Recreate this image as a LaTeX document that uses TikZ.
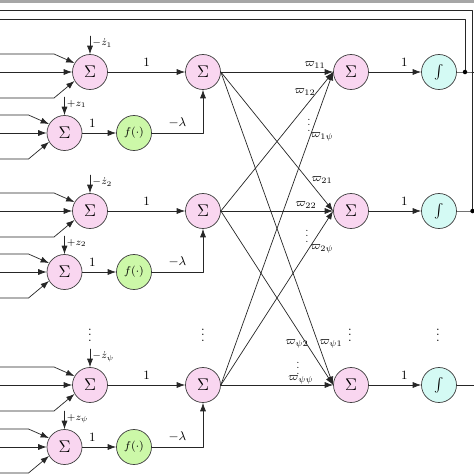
\documentclass[tikz,border=0pt]{standalone}
\usetikzlibrary{arrows.meta}

\definecolor{sumpink}{RGB}{249,214,240}
\definecolor{actgreen}{RGB}{204,248,168}
\definecolor{intcyan}{RGB}{212,250,244}

\tikzset{
  unit/.style={circle,draw=black!75,line width=0.5pt,minimum size=0.875cm,
               inner sep=0pt},
  sumnode/.style={unit,fill=sumpink,font=\large},
  actnode/.style={unit,fill=actgreen,font=\footnotesize},
  intnode/.style={unit,fill=intcyan,font=\small},
  link/.style={line width=0.5pt,draw=black!85},
  wire/.style={link,-{Latex[length=2.1mm,width=1.5mm]}},
  wlab/.style={font=\footnotesize,inner sep=0.5pt},
  dlab/.style={font=\scriptsize,inner sep=0pt},
  zlab/.style={font=\scriptsize,anchor=north west,inner sep=0.5pt,
               xshift=1pt,yshift=-1.5pt},
}

% three inputs coming in from the left edge: node, distance to the edge
\newcommand{\suminputs}[2]{%
  \draw[wire] (#1.center) ++(-#2-3,-18) -- ++(#2-33,0) -- (#1.150);
  \draw[wire] (#1.center) ++(-#2-3,0) -- (#1.west);
  \draw[wire] (#1.center) ++(-#2-3,26) -- ++(#2-33,0) -- (#1.-150);}

\begin{document}
\begin{tikzpicture}[x=0.025cm,y=-0.025cm,line cap=round,line join=round,
                    font=\small]
  \useasboundingbox (0,0) rectangle (474,474);
  \fill[black!35] (0,0) rectangle (474,3);

  % Row 1
  \node[sumnode] (a1) at (90,72) {$\Sigma$};
  \node[sumnode] (b1) at (64.5,133) {$\Sigma$};
  \node[actnode] (f1) at (134,133) {$f(\cdot)$};
  \node[sumnode] (c1) at (203,72) {$\Sigma$};
  \node[sumnode] (d1) at (351,72) {$\Sigma$};
  \node[intnode] (i1) at (439,72) {$\int$};
  \coordinate (o1) at (465,72);
  \coordinate (fb1) at (-3,19);

  % Row 2
  \node[sumnode] (a2) at (90,211) {$\Sigma$};
  \node[sumnode] (b2) at (64.5,272) {$\Sigma$};
  \node[actnode] (f2) at (134,272) {$f(\cdot)$};
  \node[sumnode] (c2) at (203,211) {$\Sigma$};
  \node[sumnode] (d2) at (351,211) {$\Sigma$};
  \node[intnode] (i2) at (439,211) {$\int$};
  \coordinate (o2) at (472.5,211);
  \coordinate (fb2) at (-3,10);

  % Row psi
  \node[sumnode] (a3) at (90,385) {$\Sigma$};
  \node[sumnode] (b3) at (64.5,447) {$\Sigma$};
  \node[actnode] (f3) at (134,447) {$f(\cdot)$};
  \node[sumnode] (c3) at (203,385) {$\Sigma$};
  \node[sumnode] (d3) at (351,385) {$\Sigma$};
  \node[intnode] (i3) at (439,385) {$\int$};
  \coordinate (o3) at (478,385);

  \node (v1) at (90,331) {$\vdots$};
  \node (v2) at (203,331) {$\vdots$};
  \node (v3) at (350,331) {$\vdots$};
  \node (v4) at (438,331) {$\vdots$};

  \suminputs{a1}{90} \suminputs{b1}{64.5}
  \suminputs{a2}{90} \suminputs{b2}{64.5}
  \suminputs{a3}{90} \suminputs{b3}{64.5}

  \draw[wire] (a1.north) ++(0,-18) node[zlab] {$-\dot z_1$} -- (a1.north);
  \draw[wire] (b1.north) ++(0,-18) node[zlab] {$+z_1$} -- (b1.north);
  \draw[wire] (a2.north) ++(0,-18) node[zlab] {$-\dot z_2$} -- (a2.north);
  \draw[wire] (b2.north) ++(0,-18) node[zlab] {$+z_2$} -- (b2.north);
  \draw[wire] (a3.north) ++(0,-18) node[zlab] {$-\dot z_\psi$} -- (a3.north);
  \draw[wire] (b3.north) ++(0,-18) node[zlab] {$+z_\psi$} -- (b3.north);

  \draw[wire] (a1) -- node[above] {$1$} (c1);
  \draw[wire] (b1) -- node[pos=0.3,above] {$1$} (f1);
  \draw[wire] (f1) -| node[pos=0.25,above] {$-\lambda$} (c1);
  \draw[wire] (a2) -- node[above] {$1$} (c2);
  \draw[wire] (b2) -- node[pos=0.3,above] {$1$} (f2);
  \draw[wire] (f2) -| node[pos=0.25,above] {$-\lambda$} (c2);
  \draw[wire] (a3) -- node[above] {$1$} (c3);
  \draw[wire] (b3) -- node[pos=0.3,above] {$1$} (f3);
  \draw[wire] (f3) -| node[pos=0.25,above] {$-\lambda$} (c3);

  % full coupling between the two columns of sums
  \draw[wire] (c1.east) -- (d1.west);
  \draw[wire] (c1.east) -- (d2.west);
  \draw[wire] (c1.east) -- (d3.west);
  \draw[wire] (c2.east) -- (d1.west);
  \draw[wire] (c2.east) -- (d2.west);
  \draw[wire] (c2.east) -- (d3.west);
  \draw[wire] (c3.east) -- (d1.west);
  \draw[wire] (c3.east) -- (d2.west);
  \draw[wire] (c3.east) -- (d3.west);

  \node[wlab] (w11) at (315,65) {$\varpi_{11}$};
  \node[wlab] (w12) at (305,92) {$\varpi_{12}$};
  \node[dlab] (k1) at (309,121) {$\vdots$};
  \node[wlab] (w1p) at (322,137) {$\varpi_{1\psi}$};
  \node[wlab] (w21) at (322,180) {$\varpi_{21}$};
  \node[wlab] (w22) at (306,205) {$\varpi_{22}$};
  \node[dlab] (k2) at (307,232) {$\vdots$};
  \node[wlab] (w2p) at (322,249) {$\varpi_{2\psi}$};
  \node[wlab] (wp2) at (297,344) {$\varpi_{\psi2}$};
  \node[wlab] (wp1) at (331,344) {$\varpi_{\psi1}$};
  \node[dlab] (k3) at (298,364) {$\vdots$};
  \node[wlab] (wpp) at (301,380) {$\varpi_{\psi\psi}$};

  \draw[wire] (d1) -- node[pos=0.68,above] {$1$} (i1);
  \draw[wire] (d2) -- node[pos=0.68,above] {$1$} (i2);
  \draw[wire] (d3) -- node[pos=0.68,above] {$1$} (i3);

  % outputs and feedback to the left edge
  \draw[link] (i1) -- (o1) -- ++(14,0);
  \draw[link] (o1) |- (fb1);
  \fill (o1) circle[radius=1.6pt];
  \draw[link] (i2) -- (o2) -- ++(6,0);
  \draw[link] (o2) |- (fb2);
  \fill (o2) circle[radius=1.6pt];
  \draw[link] (i3) -- (o3);
\end{tikzpicture}
\end{document}
